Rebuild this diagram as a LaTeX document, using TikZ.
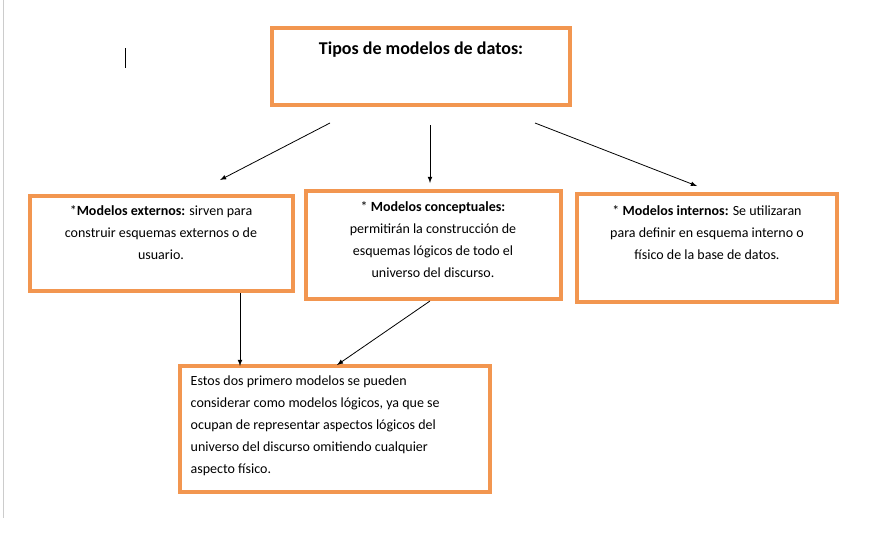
\documentclass[tikz,border=0pt]{standalone}
\usepackage{fontspec}
\setmainfont{Carlito}
\begin{document}
\begin{tikzpicture}[x=0.75pt,y=-0.75pt,
  box/.style={draw=boxor,line width=2.4pt},
  txt/.style={align=center,font=\fontsize{10.5}{16.5}\selectfont},
  arr/.style={-latex,line width=0.6pt}]
\definecolor{boxor}{RGB}{242,150,80}
\useasboundingbox (0,0) rectangle (886,550);
\fill[white] (0,0) rectangle (886,550);
\draw[gray!40] (3,0) -- (3,518);
\draw[line width=0.6pt] (125,48) -- (125,68);
\draw[box] (272,28) rectangle (570,105); \node (t) at (421,50) {\fontsize{13.5}{16}\selectfont\bfseries Tipos de modelos de datos:};
\coordinate (t1) at (330,123); \coordinate (t2) at (430,125); \coordinate (t3) at (535,123);
\draw[box] (30,196) rectangle (293,291); \node[txt,anchor=north] (l) at (161,201) {*\textbf{Modelos externos:} sirven para\\construir esquemas externos o de\\usuario.};
\draw[box] (306,191) rectangle (561,299); \node[txt,anchor=north] (m) at (433,197) {* \textbf{Modelos conceptuales:}\\permitirán la construcción de\\esquemas lógicos de todo el\\universo del discurso.};
\draw[box] (577,194) rectangle (837,302); \node[txt,anchor=north] (r) at (707,201) {* \textbf{Modelos internos:} Se utilizaran\\para definir en esquema interno o\\físico de la base de datos.};
\draw[box] (180,366) rectangle (490,492); \node[align=left,anchor=north west,font=\fontsize{10.5}{16.5}\selectfont] (b) at (186,371) {Estos dos primero modelos se pueden\\considerar como modelos lógicos, ya que se\\ocupan de representar aspectos lógicos del\\universo del discurso omitiendo cualquier\\aspecto físico.};
\coordinate (a1) at (220,180); \coordinate (a2) at (430,183); \coordinate (a3) at (697,186);
\draw[arr] (t1) -- (a1); \draw[arr] (t2) -- (a2); \draw[arr] (t3) -- (a3);
\coordinate (l1) at (240,293); \coordinate (l2) at (240,366);
\coordinate (m1) at (430,301); \coordinate (m2) at (337,365);
\draw[arr] (l1) -- (l2); \draw[arr] (m1) -- (m2);
\end{tikzpicture}
\end{document}
